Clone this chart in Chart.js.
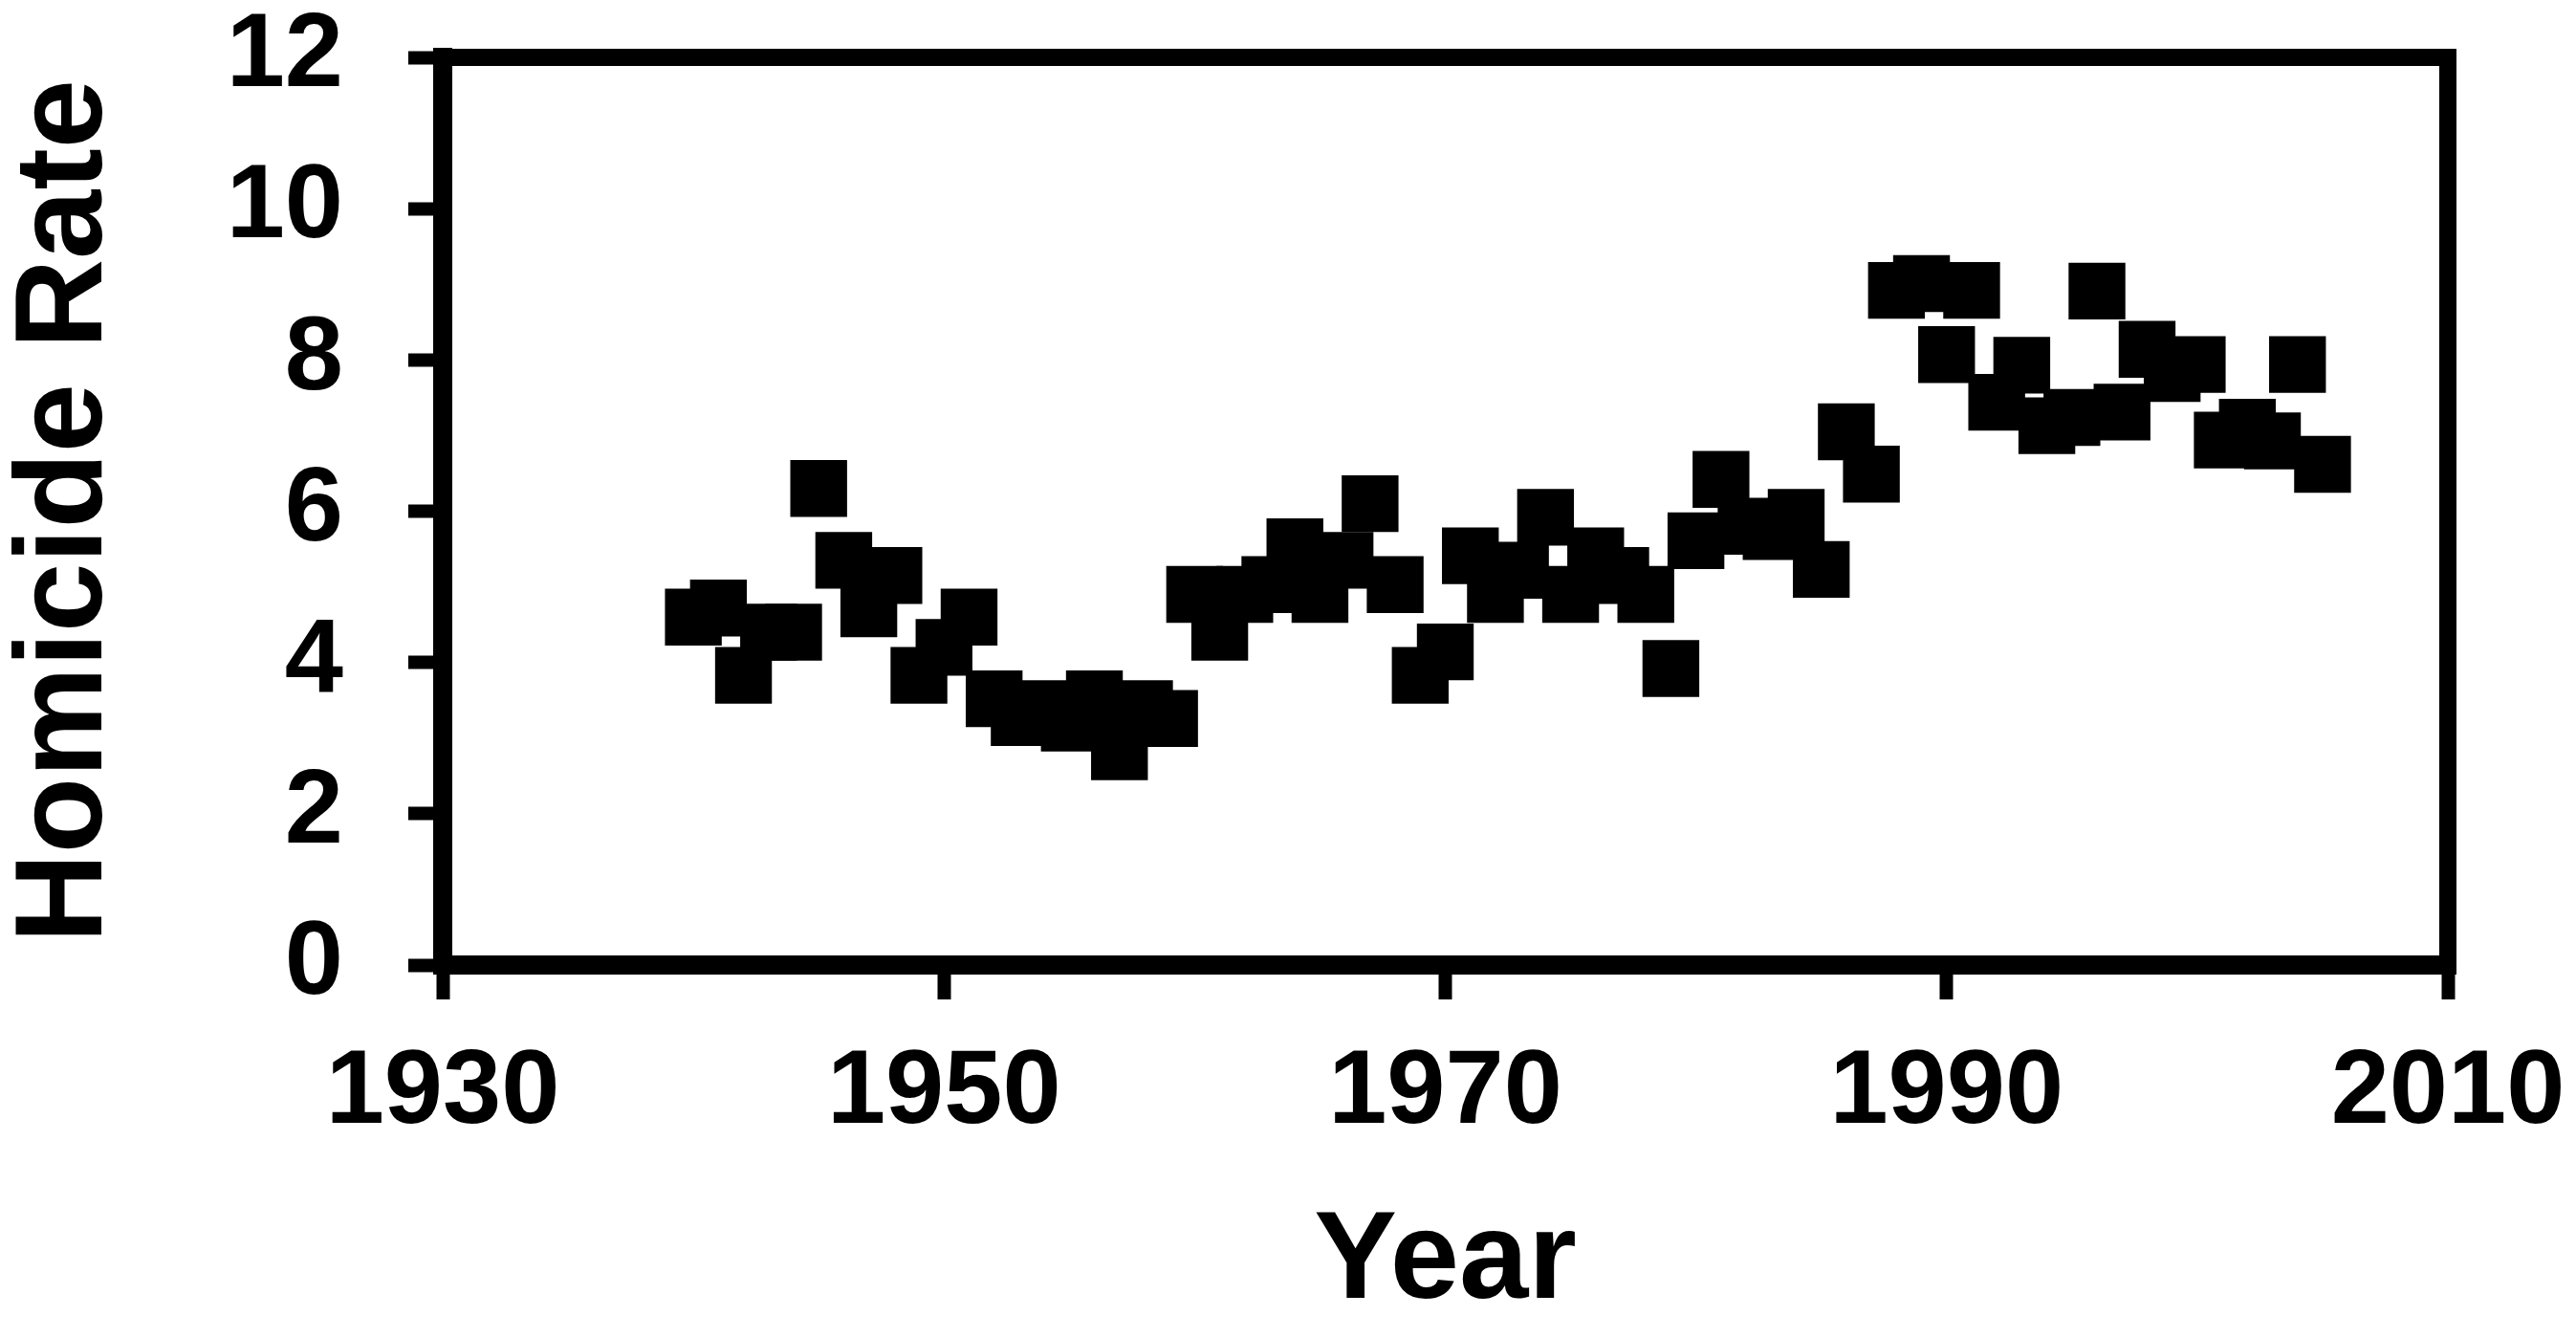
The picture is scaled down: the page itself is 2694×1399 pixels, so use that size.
<!DOCTYPE html>
<html>
<head>
<meta charset="utf-8">
<script src="https://cdn.jsdelivr.net/npm/chart.js@4.4.1/dist/chart.umd.min.js"></script>
<style>
  html, body { margin: 0; padding: 0; background: #fff; }
  #wrap { width: 2694px; height: 1399px; }
</style>
</head>
<body>
<div id="wrap"><canvas id="chart" width="2694" height="1399"></canvas></div>
<script>
const years = [
    1940, 1941, 1942, 1943, 1944, 1945, 1946, 1947, 1948, 1949,
    1950, 1951, 1952, 1953, 1954, 1955, 1956, 1957, 1958, 1959,
    1960, 1961, 1962, 1963, 1964, 1965, 1966, 1967, 1968, 1969,
    1970, 1971, 1972, 1973, 1974, 1975, 1976, 1977, 1978, 1979,
    1980, 1981, 1982, 1983, 1984, 1985, 1986, 1987, 1988, 1989,
    1990, 1991, 1992, 1993, 1994, 1995, 1996, 1997, 1998, 1999,
    2000, 2001, 2002, 2003, 2004, 2005,
];
const homicideRate = [
    4.60, 4.72, 3.83, 4.40, 4.40, 6.30, 5.35, 4.71, 5.15, 3.83,
    4.20, 4.60, 3.52, 3.27, 3.39, 3.20, 3.52, 2.82, 3.39, 3.26,
    4.90, 4.40, 4.90, 5.03, 5.53, 4.90, 5.35, 6.10, 5.03, 3.83,
    4.14, 5.41, 4.90, 5.22, 5.92, 4.90, 5.41, 5.15, 4.90, 3.92,
    5.61, 6.42, 5.80, 5.73, 5.92, 5.23, 7.05, 6.49, 8.92, 9.01,
    8.07, 8.92, 7.44, 7.93, 7.13, 7.24, 8.91, 7.31, 8.14, 7.82,
    7.94, 6.94, 7.11, 6.93, 7.94, 6.62,
];
const xTicks = [1930, 1950, 1970, 1990, 2010];
const yTicks = [0, 2, 4, 6, 8, 10, 12];

const fontFamily = "'Liberation Sans', Arial, sans-serif";

// top and right sides of the frame
const framePlugin = {
    id: "frame",
    afterDraw(chart) {
        const { ctx, chartArea } = chart;
        ctx.save();
        ctx.strokeStyle = "#000";
        ctx.lineWidth = 18;
        ctx.beginPath();
        ctx.moveTo(chartArea.left, chartArea.top);
        ctx.lineTo(chartArea.right, chartArea.top);
        ctx.lineTo(chartArea.right, chartArea.bottom + 10);
        ctx.stroke();
        ctx.restore();
    },
};

// fixed axis box sizes, no extra padding for edge labels
function noPadding(scale) {
    scale.paddingTop = 0;
    scale.paddingBottom = 0;
    scale.paddingLeft = 0;
    scale.paddingRight = 0;
}

const tickFont = { family: fontFamily, size: 110, weight: "bold" };

const chart = new Chart(document.getElementById("chart"), {
    type: "scatter",
    data: {
        datasets: [
            {
                label: "Homicide Rate",
                data: years.map((yr, i) => ({ x: yr, y: homicideRate[i] })),
                pointStyle: "rect",
                pointRadius: 42,
                pointHoverRadius: 42,
                pointBackgroundColor: "#000",
                pointBorderWidth: 0,
                borderColor: "#000",
            },
        ],
    },
    options: {
        responsive: false,
        devicePixelRatio: 1,
        animation: false,
        layout: {
            autoPadding: false,
            padding: { top: 60, right: 134, left: 0, bottom: 0 },
        },
        plugins: {
            legend: { display: false },
            tooltip: { enabled: false },
        },
        scales: {
            x: {
                type: "linear",
                min: 1930,
                max: 2010,
                afterBuildTicks: (scale) => {
                    scale.ticks = xTicks.map((v) => ({ value: v }));
                },
                afterFit: (scale) => {
                    scale.height = 390;
                    noPadding(scale);
                },
                ticks: {
                    color: "#000",
                    font: tickFont,
                    padding: 33,
                    maxRotation: 0,
                    callback: (v) => String(v),
                },
                grid: {
                    display: true,
                    drawOnChartArea: false,
                    drawTicks: true,
                    tickLength: 36,
                    tickWidth: 14,
                    tickColor: "#000",
                },
                border: { display: true, color: "#000", width: 20 },
                title: {
                    display: true,
                    text: "Year",
                    color: "#000",
                    font: { family: fontFamily, size: 130, weight: "bold", lineHeight: 1 },
                    padding: { top: 0, bottom: 13 },
                },
            },
            y: {
                min: 0,
                max: 12,
                afterBuildTicks: (scale) => {
                    scale.ticks = yTicks.map((v) => ({ value: v }));
                },
                afterFit: (scale) => {
                    scale.width = 463;
                    noPadding(scale);
                },
                ticks: {
                    color: "#000",
                    font: tickFont,
                    padding: 68,
                    callback: (v) => String(v),
                },
                grid: {
                    display: true,
                    drawOnChartArea: false,
                    drawTicks: true,
                    tickLength: 36,
                    tickWidth: 14,
                    tickColor: "#000",
                },
                border: { display: true, color: "#000", width: 20 },
                title: {
                    display: true,
                    text: "Homicide Rate",
                    color: "#000",
                    font: { family: fontFamily, size: 130, weight: "bold", lineHeight: 1 },
                    padding: { top: 5, bottom: 0 },
                },
            },
        },
    },
    plugins: [framePlugin],
});
</script>
</body>
</html>
